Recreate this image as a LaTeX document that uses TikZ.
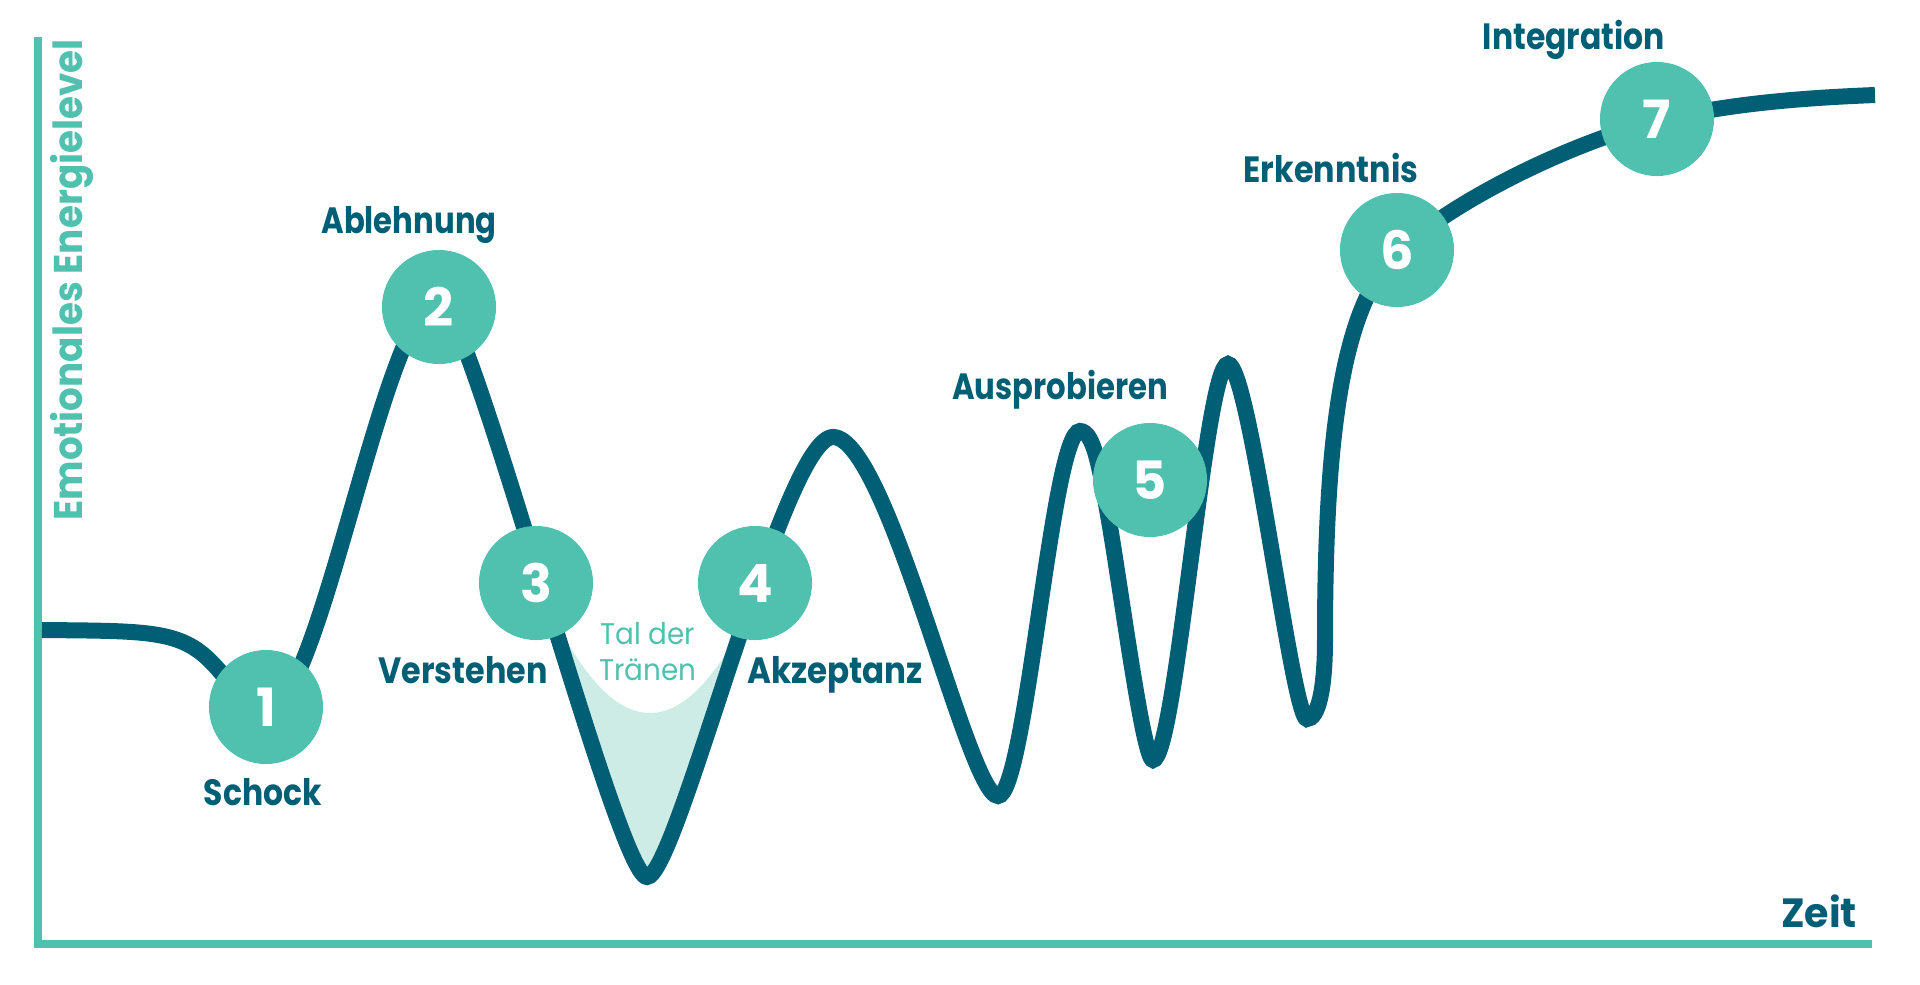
\documentclass[tikz,border=0pt]{standalone}
\usepackage{fontspec}
\usepackage{graphicx}
\setmainfont{Poppins}
\definecolor{darkc}{RGB}{0,95,117}
\definecolor{mintc}{RGB}{79,193,174}
\definecolor{mintl}{RGB}{205,236,230}
\newcommand{\narrowtxt}[2]{\scalebox{#1}[1]{#2}}
\begin{document}
\begin{tikzpicture}[x=0.01cm,y=-0.01cm,
  stage/.style={circle, fill=mintc, minimum size=1.14cm, inner sep=0pt, text=white,
    font=\bfseries\fontsize{15}{15}\selectfont},
  lbl/.style={anchor=base, inner sep=0pt, text=darkc, font=\bfseries\fontsize{10.4}{12}\selectfont},
  tal/.style={anchor=base, inner sep=0pt, text=mintc, font=\fontsize{8.5}{10}\selectfont},
  curve/.style={draw=darkc, line width=0.16cm},
  axis/.style={draw=mintc, line width=0.08cm}]
\useasboundingbox (0,0) rectangle (1920,984);
% valley fill
\begin{scope}
  \clip (439,300) .. controls (469,300) and (617,877) .. (647,877)
        .. controls (677,877) and (783,437) .. (833,437) -- cycle;
  \fill[mintl] (560,629) .. controls (620,741) and (680,741) .. (740,629)
        -- (740,950) -- (560,950) -- cycle;
\end{scope}
% axes
\draw[axis] (38,37) -- (38,944) -- (1872,944);
% curve
\draw[curve] (42,630) .. controls (140,631) and (175,630) .. (205,656)
  .. controls (230,678) and (245,712) .. (266,712)
  .. controls (320,712) and (385,300) .. (439,300)
  .. controls (469,300) and (617,877) .. (647,877)
  .. controls (677,877) and (783,437) .. (833,437)
  .. controls (888,437) and (968,796) .. (998,796)
  .. controls (1026,796) and (1052,431) .. (1080,431)
  .. controls (1094,431) and (1100,470) .. (1108,515)
  .. controls (1120,582) and (1143,760) .. (1153,760)
  .. controls (1176,760) and (1205,364) .. (1228,364)
  .. controls (1250,364) and (1292,719) .. (1307,719)
  .. controls (1318,719) and (1325,690) .. (1325,640)
  .. controls (1325,420) and (1345,300) .. (1400,250)
  .. controls (1455,200) and (1570,143) .. (1657,121)
  .. controls (1725,104) and (1800,98) .. (1875,95);
% stages
\node[stage] (s1) at (266,707) {1};
\node[stage] (s2) at (439,307) {2};
\node[stage] (s3) at (536,583) {3};
\node[stage] (s4) at (755,583) {4};
\node[stage] (s5) at (1150,480) {5};
\node[stage] (s6) at (1397,250) {6};
\node[stage] (s7) at (1657,119) {7};
% labels
\node[lbl] (l1) at (263,805) {\narrowtxt{0.86}{Schock}};
\node[lbl] (l2) at (409,233) {\narrowtxt{0.84}{Ablehnung}};
\node[lbl] (l3) at (463,683) {\narrowtxt{0.87}{Verstehen}};
\node[lbl] (l4) at (835,683) {\narrowtxt{0.89}{Akzeptanz}};
\node[lbl] (l5) at (1060,399) {\narrowtxt{0.84}{Ausprobieren}};
\node[lbl] (l6) at (1331,182) {\narrowtxt{0.87}{Erkenntnis}};
\node[lbl] (l7) at (1574,49) {\narrowtxt{0.86}{Integration}};
\node[lbl, font=\bfseries\fontsize{11.6}{12}\selectfont] (zeit) at (1819,927) {\narrowtxt{0.97}{Zeit}};
\node[lbl, text=mintc, rotate=90, font=\bfseries\fontsize{11.4}{12}\selectfont] (ylab) at (83,280) {\narrowtxt{0.93}{Emotionales Energielevel}};
\node[tal] (tal1) at (648,644) {\narrowtxt{0.93}{Tal der}};
\node[tal] (tal2) at (648,680) {\narrowtxt{0.93}{Tränen}};
\end{tikzpicture}
\end{document}
